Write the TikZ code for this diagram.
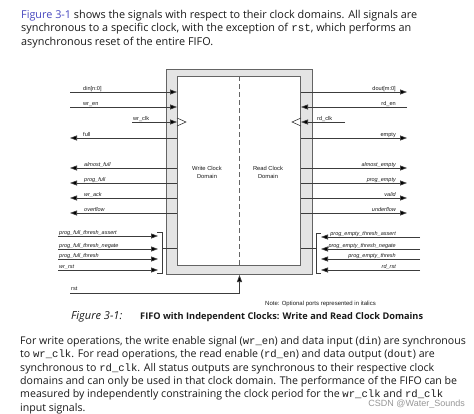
\documentclass[tikz,border=0pt]{standalone}
\usepackage{fontspec}
\setmainfont{Open Sans}
\setsansfont{Liberation Sans}
\setmonofont{Liberation Mono}
\usetikzlibrary{arrows.meta}
\definecolor{linkblue}{RGB}{70,70,190}
\definecolor{txt}{RGB}{25,25,25}
\definecolor{wire}{RGB}{60,60,60}
\definecolor{bandfill}{RGB}{228,228,228}
\definecolor{bandline}{RGB}{100,100,100}
\definecolor{wm}{RGB}{150,150,150}
\tikzset{
  para/.style={anchor=base west, inner sep=0pt, font=\fontsize{10.6}{12}\selectfont, text=txt},
  paratop/.style={anchor=base west, inner sep=0pt, font=\fontsize{10.85}{12}\selectfont, text=txt},
  sig/.style={inner sep=0pt, font=\sffamily\fontsize{5.6}{6}\selectfont, text=txt},
  opt/.style={inner sep=0pt, font=\sffamily\itshape\fontsize{5.5}{6}\selectfont, text=txt},
  wireto/.style={draw=wire, line width=0.7pt, -{Triangle[length=7pt,width=5pt,fill=black]}},
  wireplain/.style={draw=wire, line width=0.7pt},
  outerbox/.style={draw=bandline, fill=bandfill, line width=1pt, inner sep=0pt, anchor=north west},
  innerbox/.style={draw=bandline, fill=white, line width=1pt, inner sep=0pt, anchor=north west},
  domlabel/.style={inner sep=0pt, align=center, font=\sffamily\fontsize{5.8}{8}\selectfont, text=txt},
}
\begin{document}
\begin{tikzpicture}[x=1pt,y=-1pt]
\useasboundingbox (0,0) rectangle (474,413);
% top paragraph
\node[paratop] (t1) at (21,18) {\textcolor{linkblue}{Figure 3-1} shows the signals with respect to their clock domains. All signals are};
\node[paratop] (t2) at (21,31.5) {synchronous to a specific clock, with the exception of \texttt{rst}, which performs an};
\node[paratop] (t3) at (21,45.5) {asynchronous reset of the entire FIFO.};
% boxes
\node[outerbox, minimum width=146pt, minimum height=205pt] (outer) at (166,69) {};
\node[innerbox, minimum width=123pt, minimum height=189pt] (inner) at (177,76) {};
\draw[bandline, line width=0.6pt, dash pattern=on 5pt off 3pt] (inner.north) -- (inner.south);
\node[domlabel] (wdom) at (207,172) {Write Clock\\Domain};
\node[domlabel] (rdom) at (268,172) {Read Clock\\Domain};
% left inputs
\coordinate (din) at (70,92);
\coordinate (wren) at (70,107);
\coordinate (wrclk) at (132,122);
\draw[wireto] (din) -- (din -| inner.west);
\draw[wireto] (wren) -- (wren -| inner.west);
\draw[wireto] (wrclk) -- (wrclk -| inner.west);
\draw[wire, line width=0.6pt] ([yshift=4pt]wrclk -| inner.west) -- ([xshift=9pt]wrclk -| inner.west) -- ([yshift=-4pt]wrclk -| inner.west);
\node[sig, anchor=base west] (ldin) at (83,90) {din[n:0]};
\node[sig, anchor=base west] (lwren) at (83,105) {wr\_en};
\node[sig, anchor=base west] (lwrclk) at (133,120) {wr\_clk};
% left outputs
\coordinate (full) at (70,138);
\coordinate (afull) at (70,168);
\coordinate (pfull) at (70,183);
\coordinate (wrack) at (70,198);
\coordinate (ovf) at (70,213);
\foreach \c in {full,afull,pfull,wrack,ovf}{
  \draw[wireto] (\c -| inner.west) -- (\c);
}
\node[sig, anchor=base west] (lfull) at (83,136) {full};
\node[opt, anchor=base west] (lafull) at (84,166) {almost\_full};
\node[opt, anchor=base west] (lpfull) at (84,181) {prog\_full};
\node[opt, anchor=base west] (lwrack) at (84,196) {wr\_ack};
\node[opt, anchor=base west] (lovf) at (84,211) {overflow};
% left thresholds
\coordinate (pfta) at (58,236);
\coordinate (pftn) at (58,249);
\coordinate (pft) at (58,259);
\coordinate (wrrst) at (58,270);
\coordinate (lbt) at (162,232);
\coordinate (lbb) at (162,273);
\coordinate (lbm) at (162,248);
\foreach \c in {pfta,pftn,pft,wrrst}{
  \draw[wireto] (\c) -- ([xshift=100pt]\c);
}
\draw[wireplain] ([xshift=-5pt]lbt) -- (lbt) -- (lbb) -- ([xshift=-5pt]lbb);
\draw[wireplain] (lbm) -- (lbm -| inner.west);
\node[opt, anchor=base west] (lpfta) at (59,234) {prog\_full\_thresh\_assert};
\node[opt, anchor=base west] (lpftn) at (59,247) {prog\_full\_thresh\_negate};
\node[opt, anchor=base west] (lpft) at (59,257) {prog\_full\_thresh};
\node[opt, anchor=base west] (lwrrst) at (59,268) {wr\_rst};
% rst
\coordinate (rst) at (70,293);
\draw[wireto] (rst) -- (rst -| outer.south) -- (outer.south);
\node[sig, anchor=base west] (lrst) at (71,290) {rst};
% right side
\coordinate (dout) at (407,92);
\coordinate (rden) at (407,107);
\coordinate (rdclk) at (345,122);
\coordinate (empty) at (407,138);
\coordinate (aempty) at (407,168);
\coordinate (pempty) at (407,183);
\coordinate (valid) at (407,198);
\coordinate (udf) at (407,213);
\foreach \c in {dout,empty,aempty,pempty,valid,udf}{
  \draw[wireto] (\c -| inner.east) -- (\c);
}
\draw[wireto] (rden) -- (rden -| inner.east);
\draw[wireto] (rdclk) -- (rdclk -| inner.east);
\draw[wire, line width=0.6pt] ([yshift=4pt]rdclk -| inner.east) -- ([xshift=-9pt]rdclk -| inner.east) -- ([yshift=-4pt]rdclk -| inner.east);
\node[sig, anchor=base east] (ldout) at (396,90) {dout[m:0]};
\node[sig, anchor=base east] (lrden) at (396,105) {rd\_en};
\node[sig, anchor=base west] (lrdclk) at (317,120) {rd\_clk};
\node[sig, anchor=base east] (lempty) at (396,136) {empty};
\node[opt, anchor=base east] (laempty) at (396,166) {almost\_empty};
\node[opt, anchor=base east] (lpempty) at (396,181) {prog\_empty};
\node[opt, anchor=base east] (lvalid) at (396,196) {valid};
\node[opt, anchor=base east] (ludf) at (396,211) {underflow};
% right thresholds
\coordinate (peta) at (420,237);
\coordinate (petn) at (420,249);
\coordinate (pet) at (420,259);
\coordinate (rdrst) at (420,270);
\coordinate (rbt) at (316,233);
\coordinate (rbb) at (316,273);
\coordinate (rbm) at (316,248);
\foreach \c in {peta,petn,pet,rdrst}{
  \draw[wireto] (\c) -- ([xshift=-99pt]\c);
}
\draw[wireplain] ([xshift=5pt]rbt) -- (rbt) -- (rbb) -- ([xshift=5pt]rbb);
\draw[wireplain] (rbm) -- (rbm -| inner.east);
\node[opt, anchor=base east] (lpeta) at (396,235) {prog\_empty\_thresh\_assert};
\node[opt, anchor=base east] (lpetn) at (396,247) {prog\_empty\_thresh\_negate};
\node[opt, anchor=base east] (lpet) at (396,257) {prog\_empty\_thresh};
\node[opt, anchor=base east] (lrdrst) at (396,268) {rd\_rst};
% note and caption
\node[inner sep=0pt, font=\sffamily\fontsize{6}{7}\selectfont, text=txt, anchor=base west] (note) at (265,305) {Note: Optional ports represented in italics};
\node[anchor=base west, inner sep=0pt, font=\itshape\fontsize{11}{12}\selectfont, text=txt] (capa) at (71,319) {Figure 3-1:};
\node[anchor=base west, inner sep=0pt, font=\bfseries\fontsize{9.2}{11}\selectfont, text=txt] (capb) at (140,319) {FIFO with Independent Clocks: Write and Read Clock Domains};
% bottom paragraph
\node[para] (b1) at (20,344) {For write operations, the write enable signal (\texttt{wr\_en}) and data input (\texttt{din}) are synchronous};
\node[para] (b2) at (20,357.5) {to \texttt{wr\_clk}. For read operations, the read enable (\texttt{rd\_en}) and data output (\texttt{dout}) are};
\node[para] (b3) at (20,371) {synchronous to \texttt{rd\_clk}. All status outputs are synchronous to their respective clock};
\node[para] (b4) at (20,384.5) {domains and can only be used in that clock domain. The performance of the FIFO can be};
\node[para] (b5) at (20,397.5) {measured by independently constraining the clock period for the \texttt{wr\_clk} and \texttt{rd\_clk}};
\node[para] (b6) at (20,411) {input signals.};
\node[anchor=base east, inner sep=0pt, font=\sffamily\fontsize{9}{10}\selectfont, text=wm] (wmk) at (465,406) {CSDN @Water\_Sounds};
\end{tikzpicture}
\end{document}
